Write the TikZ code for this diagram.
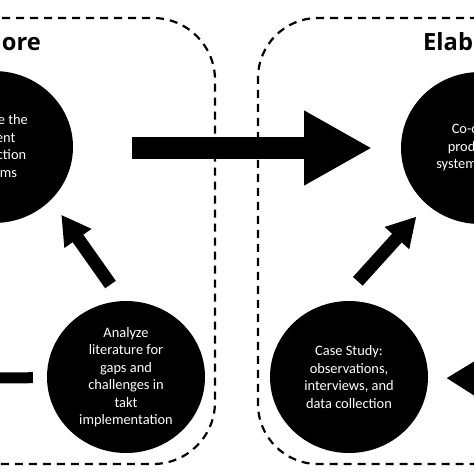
\documentclass[tikz,border=0pt]{standalone}
\usepackage{fontspec}
\setmainfont{Carlito}
\newfontfamily\titlefont{Open Sans}
\usetikzlibrary{arrows.meta, shapes.geometric}

\begin{document}
\begin{tikzpicture}[
  x=1pt, y=-1pt,
  phase/.style={fill=black, ellipse, inner sep=0pt, minimum width=158pt, minimum height=152pt, text=white, align=center, font=\fontsize{14.4}{17.5}\selectfont},
  phasetitle/.style={font=\titlefont\fontsize{23.7}{28}\selectfont\bfseries, inner sep=0pt},
  groupbox/.style={dash pattern=on 8pt off 6pt, line width=2.2pt},
  bigarr/.style={line width=22pt, -{Triangle[length=68pt, width=70pt]}},
  arr/.style={line width=13pt, -{Triangle[length=29pt, width=31pt]}},
  inarr/.style={line width=13pt, -{Triangle[length=40pt, width=46pt]}},
  phasebar/.style={line width=11pt}
]
\useasboundingbox (0,0) rectangle (474,474);
\clip (0,0) rectangle (474,474);

% Explore
\draw[groupbox, rounded corners=62pt] (-40,18) -- (215,18) -- (215,464) -- (-40,464);
\node[phasetitle, anchor=base east] (exploretitle) at (41,50) {Explore};
\node[phase] (current) at (-6,147) {Analyze the\\current\\production\\systems};
\node[phase] (lit) at (126,377) {Analyze\\literature for\\gaps and\\challenges in\\takt\\implementation};

% Elaborate
\draw[groupbox, rounded corners=60pt] (520,18) -- (258,18) -- (258,464) -- (520,464);
\node[phasetitle, anchor=base west] (elabtitle) at (423,50) {Elaborate};
\node[phase] (codesign) at (480,148) {Co-create\\production\\system designs};
\node[phase] (case) at (349,377) {Case Study:\\observations,\\interviews, and\\data collection};

% Ends off the page
\coordinate (bigtail) at (132,148);
\coordinate (bighead) at (372,148);
\coordinate (leftedge) at (-5,378);
\coordinate (rightedge) at (530,379);

% Arrows
\draw[bigarr] (bigtail) -- (bighead);
\draw[arr, shorten <=20pt, shorten >=18pt] (lit.93) -- (current.-43);
\draw[arr, shorten <=27pt, shorten >=16pt] (case.97) -- (codesign.-133);
\draw[phasebar, shorten <=14pt] (lit) -- (leftedge);
\draw[inarr, shorten >=18pt] (rightedge) -- (case);

\end{tikzpicture}
\end{document}
